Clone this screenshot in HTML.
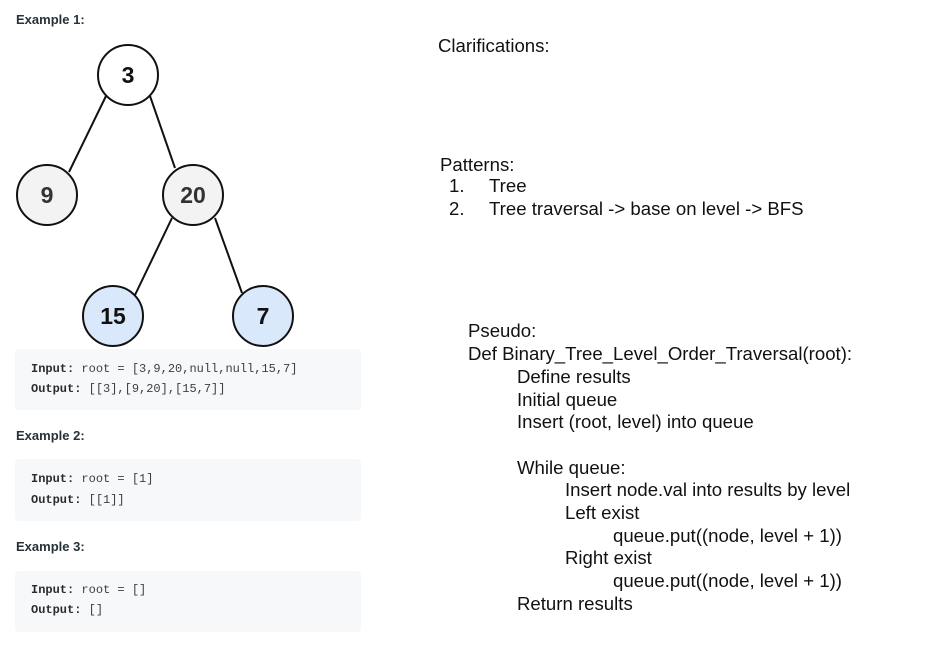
<!DOCTYPE html>
<html><head><style>
body{margin:0;width:941px;height:660px;background:#fff;position:relative;overflow:hidden;font-family:"Liberation Sans",Arial,sans-serif}
.t{position:absolute;font-size:18.6px;color:#111;white-space:pre;line-height:20px}
.h{position:absolute;font-size:13px;font-weight:bold;color:#263238;left:16px}
.box{position:absolute;left:15px;width:346px;background:#f7f8fa;border-radius:4px}
.c{position:absolute;left:31px;font-family:"Liberation Mono",monospace;font-size:12px;color:#3c4043;white-space:pre}
.c b{color:#2b2b2b}
</style></head><body>
<div class="h" style="top:12px">Example 1:</div>
<svg style="position:absolute;left:0;top:0" width="380" height="350">
<g stroke="#111" stroke-width="2">
<line x1="106" y1="96" x2="69" y2="172"/><line x1="150" y1="96" x2="175" y2="168"/>
<line x1="172" y1="218" x2="135" y2="295"/><line x1="215" y1="218" x2="242" y2="293"/>
</g>
<g stroke="#111" stroke-width="2">
<circle cx="128" cy="75" r="30" fill="#fff"/>
<circle cx="47" cy="195" r="30" fill="#f3f3f3"/>
<circle cx="193" cy="195" r="30" fill="#f3f3f3"/>
<circle cx="113" cy="316" r="30" fill="#dae8fc"/>
<circle cx="263" cy="316" r="30" fill="#dae8fc"/>
</g>
<g font-family="Liberation Sans,Arial,sans-serif" font-weight="bold" font-size="23" text-anchor="middle">
<text x="128" y="83" fill="#111">3</text>
<text x="47" y="203" fill="#333">9</text>
<text x="193" y="203" fill="#333">20</text>
<text x="113" y="324" fill="#111">15</text>
<text x="263" y="324" fill="#111">7</text>
</g></svg>
<div class="box" style="top:349px;height:61px"></div>
<div class="c" style="top:362px"><b>Input:</b> root = [3,9,20,null,null,15,7]</div>
<div class="c" style="top:382px"><b>Output:</b> [[3],[9,20],[15,7]]</div>
<div class="h" style="top:428px">Example 2:</div>
<div class="box" style="top:459px;height:62px"></div>
<div class="c" style="top:472px"><b>Input:</b> root = [1]</div>
<div class="c" style="top:493px"><b>Output:</b> [[1]]</div>
<div class="h" style="top:539px">Example 3:</div>
<div class="box" style="top:571px;height:61px"></div>
<div class="c" style="top:583px"><b>Input:</b> root = []</div>
<div class="c" style="top:603px"><b>Output:</b> []</div>

<div class="t" style="left:438px;top:36px">Clarifications:</div>
<div class="t" style="left:440px;top:155px">Patterns:</div>
<div class="t" style="left:449px;top:176px">1.</div><div class="t" style="left:489px;top:176px">Tree</div>
<div class="t" style="left:449px;top:199px">2.</div><div class="t" style="left:489px;top:199px">Tree traversal -&gt; base on level -&gt; BFS</div>
<div class="t" style="left:468px;top:321px">Pseudo:</div>
<div class="t" style="left:468px;top:344px">Def Binary_Tree_Level_Order_Traversal(root):</div>
<div class="t" style="left:517px;top:367px">Define results</div>
<div class="t" style="left:517px;top:390px">Initial queue</div>
<div class="t" style="left:517px;top:412px">Insert (root, level) into queue</div>
<div class="t" style="left:517px;top:458px">While queue:</div>
<div class="t" style="left:565px;top:480px">Insert node.val into results by level</div>
<div class="t" style="left:565px;top:503px">Left exist</div>
<div class="t" style="left:613px;top:526px">queue.put((node, level + 1))</div>
<div class="t" style="left:565px;top:548px">Right exist</div>
<div class="t" style="left:613px;top:571px">queue.put((node, level + 1))</div>
<div class="t" style="left:517px;top:594px">Return results</div>
</body></html>
